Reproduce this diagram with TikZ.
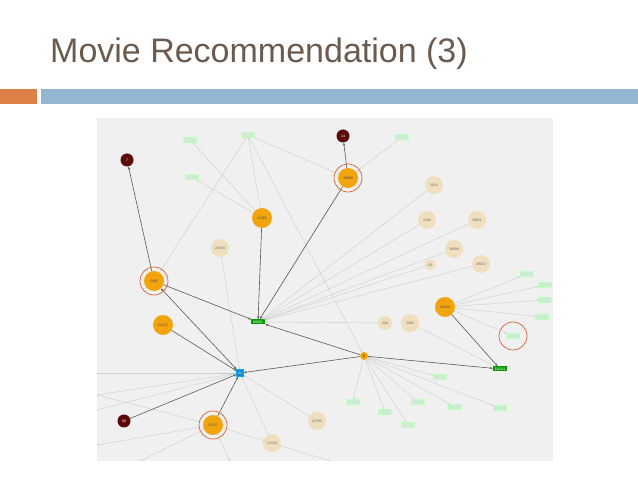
\documentclass[tikz,border=0pt]{standalone}
\usepackage{fontspec}
\setmainfont{Liberation Sans}
\usetikzlibrary{arrows.meta}
\definecolor{ttl}{HTML}{6B5A4E}
\definecolor{obar}{HTML}{DD8047}
\definecolor{bbar}{HTML}{94B6D2}
\definecolor{gold}{HTML}{F2A40C}
\definecolor{beige}{HTML}{F0DFBF}
\definecolor{dred}{HTML}{5C0A0A}
\definecolor{lgreen}{HTML}{CDEBD2}
\definecolor{ringc}{HTML}{D0623A}
\begin{document}
\begin{tikzpicture}[x=1pt,y=-1pt,
  txt/.style={font=\fontsize{3.5}{4}\selectfont},
  dk/.style={circle,fill=dred,minimum size=13pt,inner sep=0,text=white,txt},
  og/.style={circle,fill=gold,minimum size=20pt,inner sep=0,txt,text=black!70},
  bg/.style={circle,fill=beige,minimum size=18pt,inner sep=0,txt,text=black!60},
  gr/.style={rectangle,fill=green!60!black,minimum width=14pt,minimum height=5pt,inner sep=0,text=white,txt},
  lg/.style={rectangle,fill=lgreen,draw=green!25!white,minimum width=13pt,minimum height=5pt,inner sep=0,txt,text=green!40!gray},
  ring/.style={circle,draw=ringc,line width=0.7pt,minimum size=28pt,inner sep=0},
  de/.style={draw=black!65,line width=0.6pt,-{Stealth[length=3pt]}},
  le/.style={draw=black!20,line width=0.4pt,-{Stealth[length=2pt]}}]
\useasboundingbox (0,0) rectangle (638,478);
\fill[white] (0,0) rectangle (638,478);
\node[anchor=base west,text=ttl,font=\fontsize{34}{40}\selectfont,inner sep=0] (title) at (50,63) {Movie Recommendation (3)};
\fill[obar] (0,89) rectangle (37,104);
\fill[bbar] (41,89) rectangle (638,104);
\fill[black!6] (97,118) rectangle (553,461);
\begin{scope}
\clip (97,118) rectangle (553,461);
\node[dk] (n7) at (127,160) {7};
\node[dk] (n14) at (343,136) {14};
\node[dk] (n80) at (124,421) {80};
\node[og] (n39090) at (348,178) {39090};
\node[og] (n41266) at (262,218) {41266};
\node[og] (n2495) at (154,281) {2495};
\node[og] (n22137) at (163,325) {22137};
\node[og] (n52544) at (445,307) {52544};
\node[og] (n21537) at (213,425) {21537};
\node[circle,fill=gold,minimum size=8pt,inner sep=0,txt] (n5) at (364,356) {5};
\node[bg] (n25034) at (220,248) {25034};
\node[bg] (n2014) at (434,185) {2014};
\node[bg] (n1594) at (427,220) {1594};
\node[bg] (n39621) at (477,220) {39621};
\node[bg] (n39096) at (454,249) {39096};
\node[bg,minimum size=11pt] (n43) at (430,265) {43};
\node[bg] (n39072) at (481,264) {39072};
\node[bg,minimum size=14pt] (n334) at (385,323) {334};
\node[bg] (n2004) at (410,323) {2004};
\node[bg] (n22790) at (317,421) {22790};
\node[bg] (n21542) at (272,443) {21542};
\node[gr] (g1) at (258,322) {60001};
\node[gr] (g2) at (500,369) {111021};
\node[rectangle,fill=cyan!70!blue,draw=cyan,minimum size=7pt,inner sep=0,txt,text=white] (bl) at (240,373) {21};
\node[lg] (a1) at (190,140) {};
\node[lg] (a2) at (248,135) {};
\node[lg] (a3) at (402,137) {};
\node[lg] (a4) at (192,177) {};
\node[lg] (b1) at (527,274) {};
\node[lg] (b2) at (545,285) {};
\node[lg] (b3) at (545,300) {};
\node[lg] (b4) at (542,317) {};
\node[lg] (b5) at (513,336) {};
\node[lg] (c1) at (440,377) {};
\node[lg] (c2) at (353,402) {};
\node[lg] (c3) at (385,412) {};
\node[lg] (c4) at (418,402) {};
\node[lg] (c5) at (408,425) {};
\node[lg] (c6) at (455,407) {};
\node[lg] (c7) at (500,408) {};
\coordinate (e1) at (97,373);
\coordinate (e2) at (97,395);
\coordinate (e3) at (97,410);
\coordinate (e4) at (97,445);
\coordinate (e5) at (140,461);
\coordinate (e6) at (230,461);
\coordinate (e7) at (330,461);
\foreach \s in {n2014,n1594,n39621,n39096,n43,n39072,n334} \draw[le] (\s) -- (g1);
\draw[le] (n2004) -- (g2);
\foreach \s in {n25034,n22790,n21542,e1,e2,e3} \draw[le] (\s) -- (bl);
\foreach \t in {c1,c2,c3,c4,c5,c6,c7} \draw[le] (n5) -- (\t);
\foreach \t in {b1,b2,b3,b4,b5} \draw[le] (n52544) -- (\t);
\draw[le] (n41266) -- (a1); \draw[le] (n41266) -- (a4); \draw[le] (n41266) -- (a2);
\draw[le] (n39090) -- (a2); \draw[le] (n39090) -- (a3);
\draw[le] (n2495) -- (a2); \draw[le] (a2) -- (n5);
\draw[le] (n21537) -- (e4); \draw[le] (n21537) -- (e5); \draw[le] (n21537) -- (e6); \draw[le] (n21537) -- (e7);
\draw[le] (n21537) -- (e2);
\draw[de] (n2495) -- (n7);
\draw[de] (n2495) -- (g1);
\draw[de,{Stealth[length=3pt]}-{Stealth[length=3pt]}] (n2495) -- (bl);
\draw[de] (n22137) -- (bl);
\draw[de] (n41266) -- (g1);
\draw[de] (n39090) -- (g1);
\draw[de] (n39090) -- (n14);
\draw[de] (n5) -- (g1);
\draw[de] (n5) -- (bl);
\draw[de] (n5) -- (g2);
\draw[de] (n52544) -- (g2);
\draw[de] (n80) -- (bl);
\draw[de] (n21537) -- (bl);
\node[ring] (r1) at (n39090) {};
\node[ring] (r2) at (n2495) {};
\node[ring] (r3) at (n21537) {};
\node[ring] (r4) at (b5) {};
\end{scope}
\end{tikzpicture}
\end{document}
